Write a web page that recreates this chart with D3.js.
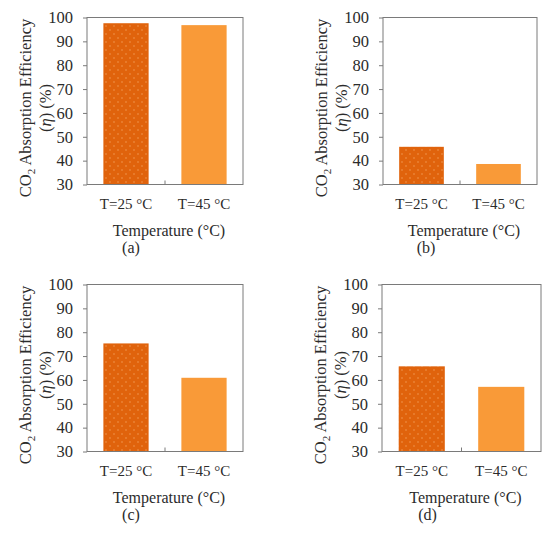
<!DOCTYPE html>
<html>
<head>
<meta charset="utf-8">
<script src="https://cdn.jsdelivr.net/npm/d3@7"></script>
<style>
  html, body { margin: 0; padding: 0; background: #fff; }
  svg { display: block; }
  text { font-family: "Liberation Serif", "Times New Roman", serif; fill: #2b2b2b; }
</style>
</head>
<body>
<svg id="chart" width="550" height="541"></svg>
<script>
"use strict";

/* ── Data ────────────────────────────────────────────────────────── */
const CATEGORIES   = ["T=25 \u00B0C", "T=45 \u00B0C"];
const PANEL_LABELS = ["(a)", "(b)", "(c)", "(d)"];
const VALUES_T25   = [97.6, 45.8, 75.3, 65.7];
const VALUES_T45   = [96.8, 38.6, 60.9, 57.1];
const Y_TICKS      = [30, 40, 50, 60, 70, 80, 90, 100];
const Y_DOMAIN     = [30, 100];

/* ── Layout: plot box of each panel ──────────────────────────────── */
const PANELS = [
  { x0: 87,  x1: 243, y0: 17.5,  y1: 184.5 },
  { x0: 383, x1: 537, y0: 17.5,  y1: 184.5 },
  { x0: 87,  x1: 243, y0: 284.5, y1: 451.5 },
  { x0: 382, x1: 541, y0: 284.5, y1: 451.5 },
];

const DARK  = "#E0630C";
const DOTS  = "#F29850";
const LIGHT = "#F99A38";
const AXIS  = "#7a7a7a";

const svg = d3.select("#chart");

/* dotted fill for the 25 °C bars (staggered sparse dots) */
const pat = svg.append("defs").append("pattern")
  .attr("id", "dots")
  .attr("patternUnits", "userSpaceOnUse")
  .attr("width", 8).attr("height", 8);
pat.append("rect").attr("width", 8).attr("height", 8).attr("fill", DARK);
pat.append("circle").attr("cx", 2).attr("cy", 2).attr("r", 0.8).attr("fill", DOTS);
pat.append("circle").attr("cx", 6).attr("cy", 6).attr("r", 0.8).attr("fill", DOTS);

PANELS.forEach(function (p, i) {
  const data = [
    { cat: CATEGORIES[0], value: VALUES_T25[i], fill: "url(#dots)" },
    { cat: CATEGORIES[1], value: VALUES_T45[i], fill: LIGHT },
  ];

  const x = d3.scaleBand().domain(CATEGORIES).range([p.x0, p.x1])
    .paddingInner(0.42).paddingOuter(0.21);
  const y = d3.scaleLinear().domain(Y_DOMAIN).range([p.y1, p.y0]);

  const g = svg.append("g");

  /* bars */
  g.selectAll(".bar").data(data).enter().append("rect")
    .attr("class", "bar")
    .attr("x", function (d) { return x(d.cat); })
    .attr("width", x.bandwidth())
    .attr("y", function (d) { return y(d.value); })
    .attr("height", function (d) { return y(Y_DOMAIN[0]) - y(d.value); })
    .attr("fill", function (d) { return d.fill; });

  /* plot frame */
  g.append("rect")
    .attr("x", p.x0).attr("y", p.y0)
    .attr("width", p.x1 - p.x0).attr("height", p.y1 - p.y0)
    .attr("fill", "none").attr("stroke", AXIS).attr("stroke-width", 1);

  /* y axis */
  const ya = g.append("g")
    .attr("transform", "translate(" + p.x0 + ",0)")
    .call(d3.axisLeft(y).tickValues(Y_TICKS).tickSize(4).tickPadding(10));
  ya.select(".domain").remove();
  ya.selectAll(".tick line").attr("stroke", AXIS);
  ya.selectAll(".tick text")
    .attr("font-size", 16.5)
    .attr("font-family", "Liberation Serif, Times New Roman, serif")
    .attr("fill", "#2b2b2b");

  /* category separator tick on the x axis */
  const mid = (x(CATEGORIES[0]) + x.bandwidth() + x(CATEGORIES[1])) / 2;
  g.append("line")
    .attr("x1", mid).attr("x2", mid)
    .attr("y1", p.y1).attr("y2", p.y1 - 4)
    .attr("stroke", AXIS);

  /* category labels */
  g.selectAll(".cat").data(CATEGORIES).enter().append("text")
    .attr("class", "cat")
    .attr("x", function (d) { return x(d) + x.bandwidth() / 2; })
    .attr("y", p.y1 + 24.5)
    .attr("text-anchor", "middle")
    .attr("font-size", 15)
    .text(function (d) { return d; });

  const cx = (p.x0 + p.x1) / 2;

  /* x title */
  g.append("text")
    .attr("x", cx + 4).attr("y", p.y1 + 51)
    .attr("text-anchor", "middle")
    .attr("font-size", 16)
    .text("Temperature (\u00B0C)");

  /* panel label */
  g.append("text")
    .attr("x", cx - 34).attr("y", p.y1 + 68)
    .attr("text-anchor", "middle")
    .attr("font-size", 16)
    .text(PANEL_LABELS[i]);

  /* y title, two rotated lines */
  const cy = (p.y0 + p.y1) / 2 + 7;
  const t1 = g.append("text")
    .attr("transform", "translate(" + (p.x0 - 56) + "," + cy + ") rotate(-90)")
    .attr("text-anchor", "middle")
    .attr("font-size", 16.5);
  t1.append("tspan").text("CO");
  t1.append("tspan").attr("font-size", 11).attr("dy", 4).text("2");
  t1.append("tspan").attr("dy", -4).text(" Absorption Efficiency");

  const t2 = g.append("text")
    .attr("transform", "translate(" + (p.x0 - 36) + "," + cy + ") rotate(-90)")
    .attr("text-anchor", "middle")
    .attr("font-size", 16.5);
  t2.append("tspan").text("(");
  t2.append("tspan").attr("font-style", "italic").text("\u03B7");
  t2.append("tspan").text(") (%)");
});
</script>
</body>
</html>
